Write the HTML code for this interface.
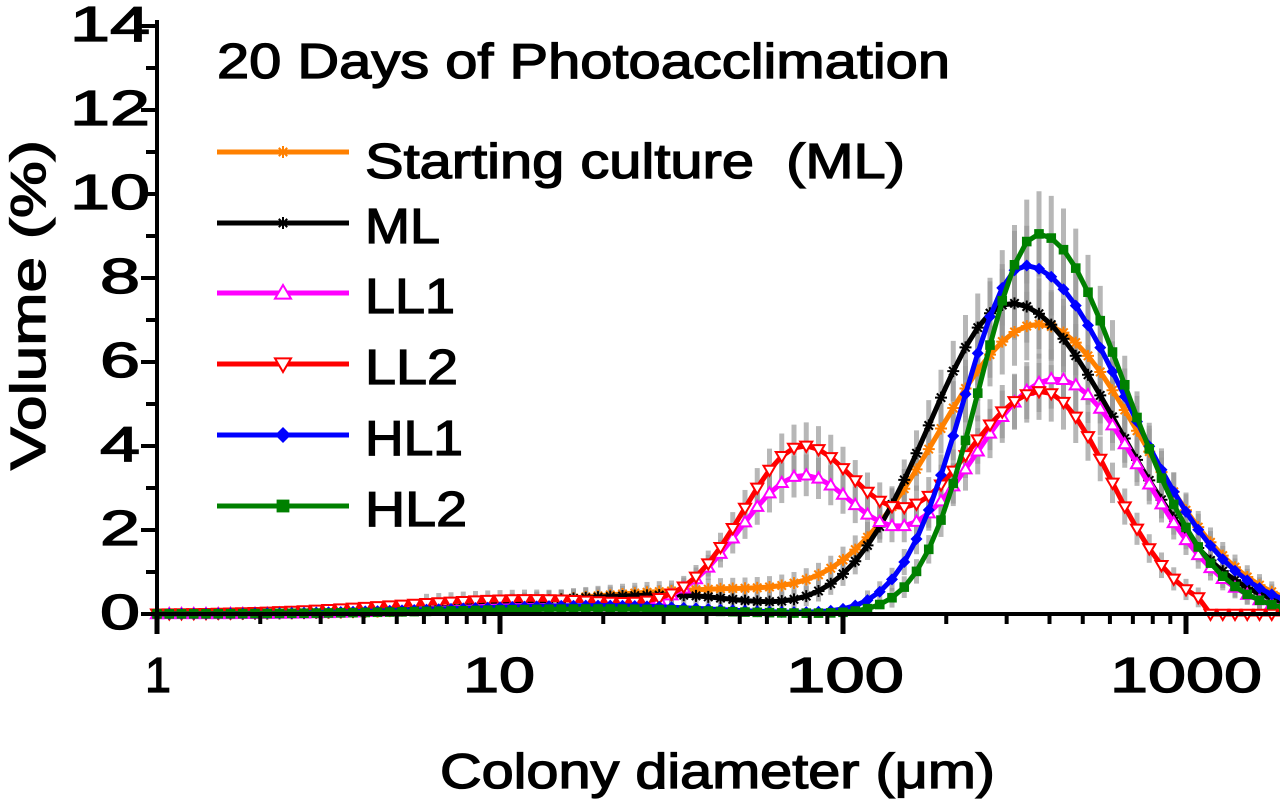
<!DOCTYPE html>
<html><head><meta charset="utf-8"><style>
html,body{margin:0;padding:0;background:#fff;}
svg{display:block;font-family:"Liberation Sans",Arial,sans-serif;}
</style></head><body>
<svg id="s" width="1280" height="802" viewBox="0 0 1280 802" xmlns="http://www.w3.org/2000/svg">
<g font-size="49" fill="#000" stroke="#000" stroke-width="1.3">
<text x="70" y="41" textLength="80" lengthAdjust="spacingAndGlyphs">14</text>
<text x="70" y="125" textLength="80" lengthAdjust="spacingAndGlyphs">12</text>
<text x="70" y="209" textLength="80" lengthAdjust="spacingAndGlyphs">10</text>
<text x="100" y="293" textLength="40" lengthAdjust="spacingAndGlyphs">8</text>
<text x="100" y="377" textLength="40" lengthAdjust="spacingAndGlyphs">6</text>
<text x="100" y="461" textLength="40" lengthAdjust="spacingAndGlyphs">4</text>
<text x="100" y="545" textLength="40" lengthAdjust="spacingAndGlyphs">2</text>
<text x="100" y="629" textLength="40" lengthAdjust="spacingAndGlyphs">0</text>
<text x="145" y="692" textLength="26" lengthAdjust="spacingAndGlyphs">1</text>
<text x="463" y="692" textLength="72" lengthAdjust="spacingAndGlyphs">10</text>
<text x="786" y="692" textLength="118" lengthAdjust="spacingAndGlyphs">100</text>
<text x="1110" y="692" textLength="152" lengthAdjust="spacingAndGlyphs">1000</text>
<text x="440" y="788" textLength="555" lengthAdjust="spacingAndGlyphs">Colony diameter (μm)</text>
<text transform="translate(45,470) rotate(-90)" textLength="330" lengthAdjust="spacingAndGlyphs">Volume (%)</text>
<text x="217" y="78" textLength="733" lengthAdjust="spacingAndGlyphs">20 Days of Photoacclimation</text>
<text x="365" y="178" textLength="540" lengthAdjust="spacingAndGlyphs" xml:space="preserve">Starting culture  (ML)</text>
<text x="365" y="243" textLength="75" lengthAdjust="spacingAndGlyphs">ML</text>
<text x="365" y="313" textLength="90" lengthAdjust="spacingAndGlyphs">LL1</text>
<text x="365" y="384" textLength="93" lengthAdjust="spacingAndGlyphs">LL2</text>
<text x="365" y="455" textLength="98" lengthAdjust="spacingAndGlyphs">HL1</text>
<text x="365" y="526" textLength="102" lengthAdjust="spacingAndGlyphs">HL2</text>
</g>
<g id="g"></g>
</svg>
<script>
var NS="http://www.w3.org/2000/svg",g=document.getElementById('g');
function el(t,a){var e=document.createElementNS(NS,t);for(var k in a)e.setAttribute(k,a[k]);g.appendChild(e);return e;}
function Y(v){return 614-42*v;}
function G(l,m,a,sl,sr){var s=l<m?sl:sr;return a*Math.exp(-(l-m)*(l-m)/(2*s*s));}
var series=[
{c:"#ff8000",m:"star",f:function(l){return G(l,2.57,6.9,0.3,0.3)+G(l,1.6,0.55,0.45,0.25);}},
{c:"#000",m:"star",f:function(l){return G(l,2.49,7.4,0.24,0.31)+G(l,1.5,0.45,0.45,0.22);}},
{c:"#ff00ff",m:"up",f:function(l){return G(l,2.62,5.6,0.26,0.25)+G(l,1.875,3.2,0.18,0.18)+G(l,1.1,0.2,0.3,0.3);}},
{c:"#ff0000",m:"down",f:function(l){var v=G(l,2.58,5.3,0.26,0.2)+G(l,1.875,3.85,0.17,0.18)+G(l,1.1,0.35,0.4,0.3);return l>3.07?0:v;}},
{c:"#0000ff",m:"dia",f:function(l){return G(l,2.53,8.3,0.18,0.3)+G(l,1.3,0.2,0.45,0.3);}},
{c:"#008000",m:"sq",f:function(l){return G(l,2.57,9.05,0.17,0.25)+G(l,1.3,0.12,0.45,0.3);}}
];
var step=1/28,pts=[];for(var l=0;l<=3.3;l+=step)pts.push(l);
series.forEach(function(s){pts.forEach(function(l){var v=s.f(l);var e=0.2+v*0.09;if(v>0.25)el('line',{x1:157+343*l,x2:157+343*l,y1:Y(v+e),y2:Y(v-e),stroke:"#999","stroke-width":5,opacity:0.7});});});
function marker(s,x,y,sz){
 if(s.m=="star"){el('path',{d:"M"+(x-sz)+" "+y+"H"+(x+sz)+"M"+x+" "+(y-sz)+"V"+(y+sz)+"M"+(x-sz*.7)+" "+(y-sz*.7)+"L"+(x+sz*.7)+" "+(y+sz*.7)+"M"+(x-sz*.7)+" "+(y+sz*.7)+"L"+(x+sz*.7)+" "+(y-sz*.7),stroke:s.c,"stroke-width":2});}
 else if(s.m=="up"){el('path',{d:"M"+x+" "+(y-sz)+"L"+(x+sz)+" "+(y+sz*.7)+"L"+(x-sz)+" "+(y+sz*.7)+"Z",fill:"#fff",stroke:s.c,"stroke-width":2});}
 else if(s.m=="down"){el('path',{d:"M"+x+" "+(y+sz)+"L"+(x+sz)+" "+(y-sz*.7)+"L"+(x-sz)+" "+(y-sz*.7)+"Z",fill:"#fff",stroke:s.c,"stroke-width":2});}
 else if(s.m=="dia"){el('path',{d:"M"+x+" "+(y-sz)+"L"+(x+sz)+" "+y+"L"+x+" "+(y+sz)+"L"+(x-sz)+" "+y+"Z",fill:s.c});}
 else {el('rect',{x:x-sz*.8,y:y-sz*.8,width:sz*1.6,height:sz*1.6,fill:s.c});}
}
series.forEach(function(s){var d="";pts.forEach(function(l,i){d+=(i?"L":"M")+(157+343*l).toFixed(1)+" "+Y(s.f(l)).toFixed(1);});
 el('path',{d:d,fill:"none",stroke:s.c,"stroke-width":5,"stroke-linejoin":"round"});
 pts.forEach(function(l){marker(s,157+343*l,Y(s.f(l)),6);});});
el('line',{x1:157,y1:20,x2:157,y2:616,stroke:"#000","stroke-width":4});
el('line',{x1:155,y1:614,x2:1280,y2:614,stroke:"#000","stroke-width":4});
for(var i=0;i<=14;i++){el('line',{x1:i%2?146:141,x2:157,y1:Y(i),y2:Y(i),stroke:"#000","stroke-width":4});}
for(var dec=0;dec<4;dec++)for(var k=1;k<10;k++){var x=157+343*(dec+Math.log10(k));if(x>1280)break;el('line',{x1:x,x2:x,y1:614,y2:k==1?634:624,stroke:"#000","stroke-width":k==1?5:4});}
var ly=[152,223,293,364,435,506];
series.forEach(function(s,i){el('line',{x1:217,x2:349,y1:ly[i],y2:ly[i],stroke:s.c,"stroke-width":5});marker(s,283,ly[i],i<2?6:8);});
</script>
</body></html>
